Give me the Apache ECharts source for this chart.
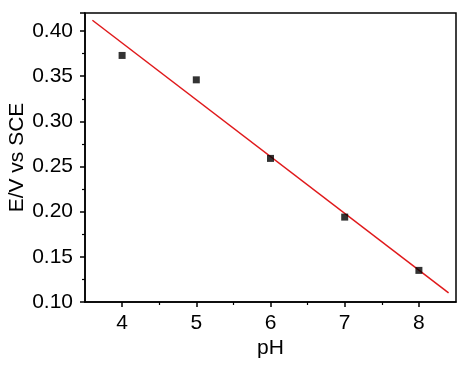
<!DOCTYPE html>
<html>
<head>
<meta charset="utf-8">
<script src="https://cdn.jsdelivr.net/npm/echarts@6/dist/echarts.min.js"></script>
<style>
  html, body { margin: 0; padding: 0; background: #fff; }
  #chart { width: 474px; height: 366px; }
</style>
</head>
<body>
<div id="chart"></div>
<script>
// measured points
const phValues = [4, 5, 6, 7, 8];
const potentials = [0.373, 0.346, 0.259, 0.194, 0.135];
// linear fit line ends
const fitPh = [3.6, 8.4];
const fitE = [0.412, 0.110];
// x axis ticks
const xTicks = [4, 5, 6, 7, 8];
const xMinorTicks = [4.5, 5.5, 6.5, 7.5];

const FONT = "Liberation Sans, Arial, sans-serif";

const chart = echarts.init(document.getElementById("chart"));

const option = {
  animation: false,
  backgroundColor: "#fff",
  grid: {
    left: 85,
    top: 13,
    right: 18,
    bottom: 64,
    outerBoundsMode: "none",
    show: true,
    borderColor: "#000",
    borderWidth: 1.5,
  },
  xAxis: [
    {
      type: "value",
      min: 3.5,
      max: 8.5,
      name: "pH",
      nameLocation: "middle",
      nameGap: 36,
      nameMoveOverlap: false,
      nameTextStyle: { color: "#000", fontSize: 21, fontFamily: FONT, verticalAlign: "top" },
      axisLine: { show: true, onZero: false, lineStyle: { color: "#000", width: 1.5 } },
      axisTick: {
        show: true,
        inside: false,
        length: 5,
        customValues: xTicks,
        lineStyle: { color: "#000", width: 1.5 },
      },
      axisLabel: {
        color: "#000",
        fontSize: 21,
        fontFamily: FONT,
        margin: 11,
        customValues: xTicks,
      },
      splitLine: { show: false },
    },
    {
      // minor ticks only
      type: "value",
      min: 3.5,
      max: 8.5,
      position: "bottom",
      axisLine: { show: false },
      axisTick: {
        show: true,
        inside: false,
        length: 3,
        customValues: xMinorTicks,
        lineStyle: { color: "#000", width: 1.2 },
      },
      axisLabel: { show: false },
      splitLine: { show: false },
    },
  ],
  yAxis: {
    type: "value",
    min: 0.1,
    max: 0.42,
    interval: 0.05,
    name: "E/V vs SCE",
    nameLocation: "middle",
    nameGap: 57,
    nameMoveOverlap: false,
    nameTextStyle: { color: "#000", fontSize: 21, fontFamily: FONT },
    axisLine: { show: true, onZero: false, lineStyle: { color: "#000", width: 1.5 } },
    axisTick: { show: true, inside: false, length: 5, lineStyle: { color: "#000", width: 1.5 } },
    minorTick: { show: true, splitNumber: 2, length: 3, lineStyle: { color: "#000", width: 1.2 } },
    axisLabel: {
      color: "#000",
      fontSize: 21,
      fontFamily: FONT,
      margin: 12,
      showMaxLabel: false,
      formatter: (v) => v.toFixed(2),
    },
    splitLine: { show: false },
  },
  series: [
    {
      type: "line",
      data: fitPh.map((x, i) => [x, fitE[i]]),
      symbol: "none",
      lineStyle: { color: "#e0191b", width: 1.5 },
      z: 2,
    },
    {
      type: "scatter",
      data: phValues.map((x, i) => [x, potentials[i]]),
      symbol: "rect",
      symbolSize: 7,
      itemStyle: { color: "#000" },
      z: 3,
    },
  ],
};

chart.setOption(option);
</script>
</body>
</html>
